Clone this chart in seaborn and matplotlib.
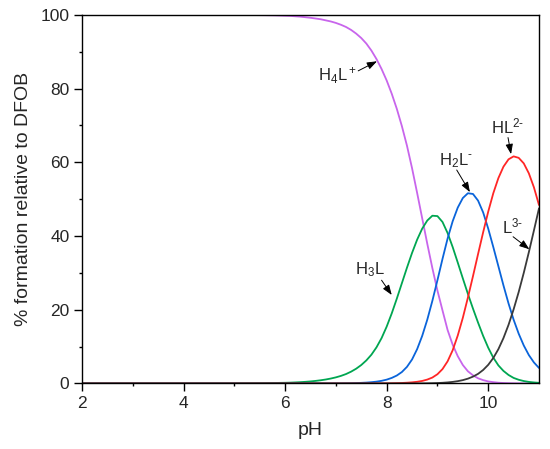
import pandas as pd
import seaborn as sns
import matplotlib
matplotlib.use('Agg')
import matplotlib.pyplot as plt

# pH 网格
pH = [2.0, 3.0, 4.0, 4.5, 5.0, 5.3, 5.6, 5.8,
      6.0, 6.1, 6.2, 6.3, 6.4, 6.5, 6.6, 6.7, 6.8, 6.9,
      7.0, 7.1, 7.2, 7.3, 7.4, 7.5, 7.6, 7.7, 7.8, 7.9,
      8.0, 8.1, 8.2, 8.3, 8.4, 8.5, 8.6, 8.7, 8.8, 8.9,
      9.0, 9.1, 9.2, 9.3, 9.4, 9.5, 9.6, 9.7, 9.8, 9.9,
      10.0, 10.1, 10.2, 10.3, 10.4, 10.5, 10.6, 10.7, 10.8, 10.9,
      11.0]

# 各物种分布 (%)
H4L = [100, 100, 100, 100, 100, 99.95, 99.9, 99.85,
       99.75, 99.7, 99.6, 99.5, 99.35, 99.2, 99.0, 98.8, 98.5, 98.2,
       97.8, 97.3, 96.7, 95.9, 94.9, 93.7, 92.2, 90.3, 88.0, 85.3,
       82.2, 78.6, 74.5, 69.8, 64.5, 58.4, 51.7, 44.8, 37.9, 31.3,
       25.2, 19.8, 14.5, 10.5, 7.4, 5.0, 3.3, 2.2, 1.4, 0.9,
       0.55, 0.35, 0.2, 0.12, 0.07, 0.04, 0.02, 0.01, 0, 0,
       0]
H3L = [0, 0, 0, 0.01, 0.02, 0.04, 0.08, 0.13,
       0.18, 0.22, 0.28, 0.35, 0.44, 0.55, 0.69, 0.86, 1.07, 1.33,
       1.65, 2.05, 2.55, 3.2, 4.0, 5.0, 6.25, 7.8, 9.8, 12.3,
       15.4, 19.0, 23.0, 27.2, 31.4, 35.4, 39.0, 42.0, 44.2, 45.5,
       45.4, 43.8, 40.8, 37.0, 32.8, 28.5, 24.3, 20.3, 16.5, 12.9,
       9.7, 7.0, 4.9, 3.4, 2.3, 1.5, 1.0, 0.65, 0.42, 0.27,
       0.17]
H2L = [0, 0, 0, 0, 0, 0, 0, 0,
       0, 0, 0, 0, 0, 0, 0, 0, 0.01, 0.01,
       0.02, 0.03, 0.05, 0.07, 0.11, 0.16, 0.23, 0.34, 0.49, 0.71,
       1.03, 1.5, 2.15, 3.1, 4.5, 6.5, 9.3, 12.9, 17.3, 22.4,
       28.0, 33.8, 39.3, 44.0, 47.7, 50.3, 51.6, 51.4, 49.6, 46.4,
       42.0, 37.0, 31.8, 26.6, 21.7, 17.3, 13.5, 10.3, 7.7, 5.7,
       4.2]
HL = [0, 0, 0, 0, 0, 0, 0, 0,
      0, 0, 0, 0, 0, 0, 0, 0, 0, 0,
      0, 0, 0, 0, 0, 0, 0.01, 0.01, 0.02, 0.03,
      0.04, 0.06, 0.09, 0.13, 0.2, 0.3, 0.45, 0.68, 1.05, 1.6,
      2.5, 3.9, 6.0, 9.0, 13.0, 17.8, 23.3, 29.1, 35.1, 41.0,
      46.6, 51.6, 55.7, 58.8, 60.8, 61.6, 61.2, 59.7, 57.0, 53.2,
      48.4]
L = [0, 0, 0, 0, 0, 0, 0, 0,
     0, 0, 0, 0, 0, 0, 0, 0, 0, 0,
     0, 0, 0, 0, 0, 0, 0, 0, 0, 0,
     0, 0, 0, 0, 0, 0, 0.01, 0.02, 0.04, 0.07,
     0.11, 0.18, 0.28, 0.42, 0.62, 0.9, 1.3, 1.85, 2.6, 3.65,
     5.05, 6.9, 9.3, 12.3, 15.9, 20.1, 24.8, 30.0, 35.6, 41.5,
     47.5]

species = ['H4L', 'H3L', 'H2L', 'HL', 'L']
colors = {'H4L': '#C865EC', 'H3L': '#00A651', 'H2L': '#0A64DA',
          'HL': '#FF2626', 'L': '#3A3A3A'}

df = pd.DataFrame({'pH': pH, 'H4L': H4L, 'H3L': H3L, 'H2L': H2L, 'HL': HL, 'L': L})
plot_data = df.melt(id_vars='pH', value_vars=species, var_name='species', value_name='pct')

sns.set_style('ticks')
plt.rcParams['font.family'] = ['Liberation Sans', 'DejaVu Sans']
plt.rcParams['mathtext.fontset'] = 'custom'
plt.rcParams['mathtext.rm'] = 'Liberation Sans'
plt.rcParams['mathtext.it'] = 'Liberation Sans:italic'

fig = plt.figure(figsize=(5.5, 4.49), dpi=100)
ax = fig.add_axes([0.149, 0.146, 0.831, 0.821])

sns.lineplot(data=plot_data, x='pH', y='pct', hue='species', palette=colors,
             hue_order=species, sort=False, linewidth=1.3, legend=False, ax=ax)

ax.set_xlim(2, 11)
ax.set_ylim(0, 100)
ax.set_xticks([2, 4, 6, 8, 10])
ax.set_xticks([3, 5, 7, 9], minor=True)
ax.set_yticks([0, 20, 40, 60, 80, 100])
ax.set_yticks([10, 30, 50, 70, 90], minor=True)
ax.tick_params(which='major', direction='out', length=5.5, width=1, labelsize=12.5, color='black')
ax.tick_params(which='minor', direction='out', length=2.5, width=1, color='black')
for s in ax.spines.values():
    s.set_linewidth(1.0)
    s.set_color('black')

ax.set_xlabel('pH', fontsize=14, labelpad=8)
ax.set_ylabel('% formation relative to DFOB', fontsize=14, labelpad=6)

# 物种标注: 文字位置, 箭头尾, 箭头头
labels = [
    ('H$_4$L$^+$', (7.03, 83.5), (7.44, 84.8), (7.81, 87.4)),
    ('H$_3$L', (7.67, 31.0), (7.90, 28.0), (8.10, 24.0)),
    (r'H$_2$L$^{\text{-}}$', (9.36, 60.5), (9.38, 57.9), (9.64, 51.9)),
    (r'HL$^{\text{2-}}$', (10.39, 69.8), (10.39, 66.7), (10.45, 62.2)),
    (r'L$^{\text{3-}}$', (10.49, 42.5), (10.49, 39.8), (10.81, 36.4)),
]
for txt, pos, tail, head in labels:
    ax.text(pos[0], pos[1], txt, fontsize=12, ha='center', va='center')
    ax.annotate('', xy=head, xytext=tail,
                arrowprops=dict(arrowstyle='-|>,head_length=0.6,head_width=0.22',
                                color='black', lw=0.7, shrinkA=0, shrinkB=0,
                                mutation_scale=10))

fig.savefig('out.png', dpi=100)
